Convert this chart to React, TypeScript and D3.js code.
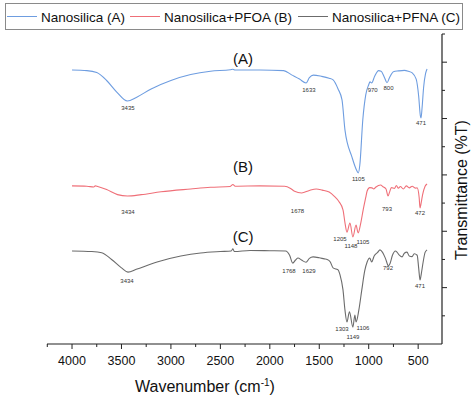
import React, { useEffect, useRef } from "react";
import * as d3 from "d3";

// spectra: [wavenumber (cm-1), transmittance (arb.)]
const nanosilicaA: [number, number][] = [
  [4000, 97.2], [3850, 97.0], [3750, 96.3], [3650, 93.5], [3550, 89.5], [3440, 86.2],
  [3350, 87.5], [3200, 90.5], [3000, 93.5], [2800, 95.6], [2600, 96.8], [2400, 97.3],
  [2373, 97.5], [2350, 97.2], [2100, 97.2], [1860, 97.0], [1780, 95.5], [1700, 94.0],
  [1634, 92.6], [1600, 94.5], [1560, 95.4], [1480, 95.0], [1400, 94.3], [1360, 93.7],
  [1310, 90.5], [1270, 86.6], [1240, 75.9], [1170, 66.4], [1120, 61.5], [1105, 60.7],
  [1090, 63.5], [1060, 79.5], [1030, 88.4], [1000, 92.0], [987, 93.0], [970, 92.6],
  [940, 95.0], [900, 97.0], [875, 96.8], [840, 94.5], [815, 92.7], [790, 94.5],
  [750, 96.6], [700, 96.9], [640, 97.1], [600, 96.8], [560, 96.2], [520, 94.0],
  [495, 88.0], [478, 81.0], [471, 80.2], [460, 84.0], [445, 91.0], [425, 96.0], [410, 97.6],
];

const nanosilicaPFOA: [number, number][] = [
  [4000, 56.1], [3850, 56.0], [3780, 55.7], [3765, 56.1], [3740, 55.9], [3650, 54.8],
  [3540, 53.0], [3440, 52.5], [3300, 53.0], [3100, 54.0], [2800, 55.0], [2600, 55.6],
  [2400, 55.9], [2373, 56.6], [2350, 56.0], [2100, 56.1], [1850, 56.0], [1790, 55.2],
  [1750, 54.2], [1678, 53.6], [1600, 54.5], [1530, 55.0], [1470, 54.6], [1400, 53.9],
  [1350, 52.5], [1300, 50.5], [1260, 47.6], [1240, 43.0], [1220, 39.7], [1190, 42.9],
  [1160, 38.0], [1128, 42.2], [1107, 39.4], [1080, 43.0], [1056, 47.6], [1030, 52.0],
  [1016, 54.3], [990, 55.5], [967, 55.4], [950, 55.0], [930, 55.6], [880, 56.4],
  [855, 55.8], [825, 55.0], [805, 52.5], [790, 53.8], [770, 55.5], [740, 55.2],
  [720, 56.2], [700, 55.3], [680, 55.9], [650, 55.0], [620, 56.1], [590, 55.4],
  [560, 56.0], [530, 55.3], [510, 55.4], [490, 52.0], [481, 48.3], [470, 50.0],
  [455, 53.0], [430, 56.0], [410, 56.8],
];

const nanosilicaPFNA: [number, number][] = [
  [4000, 33.0], [3800, 32.8], [3700, 32.4], [3600, 30.0], [3500, 27.0], [3434, 25.5],
  [3350, 26.5], [3140, 29.1], [2900, 31.2], [2700, 32.3], [2500, 32.8], [2390, 33.0],
  [2373, 33.8], [2360, 32.8], [2200, 33.2], [2000, 33.1], [1840, 33.0], [1800, 31.5],
  [1768, 28.7], [1740, 29.8], [1715, 30.5], [1680, 29.8], [1634, 29.0], [1600, 30.4],
  [1563, 30.9], [1500, 30.6], [1450, 30.2], [1420, 30.0], [1390, 29.2], [1360, 27.0],
  [1330, 26.6], [1310, 26.3], [1290, 24.5], [1260, 19.2], [1240, 12.0], [1220, 7.8],
  [1195, 11.4], [1160, 6.0], [1140, 10.3], [1128, 7.8], [1100, 12.0], [1070, 19.2],
  [1040, 26.0], [1016, 29.1], [990, 30.5], [970, 29.1], [945, 31.2], [910, 32.5],
  [886, 33.4], [860, 32.5], [830, 30.3], [800, 27.7], [785, 28.5], [760, 31.5],
  [730, 33.0], [714, 32.6], [690, 31.5], [663, 30.9], [640, 32.2], [613, 32.6],
  [590, 31.2], [562, 31.0], [540, 32.0], [510, 31.5], [495, 27.0], [481, 22.7],
  [468, 25.0], [450, 29.0], [430, 32.5], [410, 33.4],
];

const seriesNames = ["Nanosilica (A)", "Nanosilica+PFOA (B)", "Nanosilica+PFNA (C)"];
const seriesColors = ["#6e9de0", "#ef6f78", "#6b6b6b"];
const seriesData = [nanosilicaA, nanosilicaPFOA, nanosilicaPFNA];

// "(A)" "(B)" "(C)" curve tags: [label, wavenumber, transmittance]
const curveTags: [string, number, number][] = [
  ["(A)", 2270, 99.3],
  ["(B)", 2270, 61.2],
  ["(C)", 2270, 36.2],
];

// peak labels: [text, wavenumber, transmittance] for where the label sits
const peakLabels: [string, number, number][] = [
  ["3435", 3435, 83.0], ["1633", 1605, 89.4], ["970", 960, 89.4], ["800", 800, 90.1],
  ["471", 471, 77.7], ["1105", 1105, 57.8],
  ["3434", 3434, 46.1], ["1678", 1720, 46.5], ["1205", 1290, 36.6], ["1148", 1179, 34.1],
  ["1105", 1058, 35.5], ["793", 815, 47.2], ["472", 481, 45.8],
  ["3434", 3444, 21.6], ["1768", 1806, 25.2], ["1629", 1604, 25.2], ["792", 805, 26.3],
  ["471", 481, 19.9], ["1303", 1270, 4.6], ["1149", 1159, 1.8], ["1106", 1058, 5.0],
];

const xTicks = [4000, 3500, 3000, 2500, 2000, 1500, 1000, 500];

const FONT = "'Liberation Sans', Arial, Helvetica, sans-serif";

const App = () => {
  const ref = useRef<SVGSVGElement>(null);

  useEffect(() => {
    const width = 474;
    const height = 398;
    const plot = { left: 47, right: 442, top: 34, bottom: 344 };

    const svg = d3.select(ref.current);
    svg.selectAll("*").remove();
    svg.attr("width", width).attr("height", height);

    const x = d3.scaleLinear().domain([4253, 259]).range([plot.left, plot.right]);
    const y = d3.scaleLinear().domain([0, 110]).range([plot.bottom, plot.top]);

    // legend box
    const lg = svg.append("g").attr("font-family", FONT).attr("font-size", 13.5);
    lg.append("rect")
      .attr("x", 5.5).attr("y", 3.5).attr("width", 457).attr("height", 26)
      .attr("fill", "#fff").attr("stroke", "#8a8a8a").attr("stroke-width", 1);
    const legendX = [7, 130, 298];
    seriesNames.forEach((name, i) => {
      lg.append("line")
        .attr("x1", legendX[i]).attr("x2", legendX[i] + 30)
        .attr("y1", 16.5).attr("y2", 16.5)
        .attr("stroke", seriesColors[i]).attr("stroke-width", 1);
      lg.append("text")
        .attr("x", legendX[i] + 34).attr("y", 21.5)
        .attr("fill", "#111")
        .text(name);
    });

    // bottom axis
    const gx = svg.append("g").attr("transform", `translate(0,${plot.bottom})`);
    gx.append("line")
      .attr("x1", plot.left).attr("x2", plot.right)
      .attr("stroke", "#222").attr("stroke-width", 1.2);
    const minor = d3.range(4250, 250, -250).filter(v => v % 500 !== 0);
    gx.selectAll("line.minor").data(minor).enter().append("line")
      .attr("class", "minor")
      .attr("x1", d => x(d)).attr("x2", d => x(d))
      .attr("y1", 0).attr("y2", 3)
      .attr("stroke", "#222");
    gx.selectAll("line.major").data(xTicks).enter().append("line")
      .attr("class", "major")
      .attr("x1", d => x(d)).attr("x2", d => x(d))
      .attr("y1", 0).attr("y2", 5)
      .attr("stroke", "#222");
    gx.selectAll("text").data(xTicks).enter().append("text")
      .attr("x", d => x(d)).attr("y", 21)
      .attr("text-anchor", "middle")
      .attr("font-family", FONT).attr("font-size", 12.5)
      .attr("fill", "#111")
      .text(d => d);

    // right axis, no labels
    const gy = svg.append("g").attr("transform", `translate(${plot.right},0)`);
    gy.append("line")
      .attr("y1", plot.top).attr("y2", plot.bottom)
      .attr("stroke", "#222").attr("stroke-width", 1.2);
    gy.selectAll("line.tick").data(d3.range(10, 111, 10)).enter().append("line")
      .attr("class", "tick")
      .attr("y1", d => y(d)).attr("y2", d => y(d))
      .attr("x1", 0).attr("x2", d => (d % 20 === 0 ? 5 : 3))
      .attr("stroke", "#222");

    // spectra
    const line = d3.line<[number, number]>()
      .x(d => x(d[0]))
      .y(d => y(d[1]))
      .curve(d3.curveMonotoneX);
    seriesData.forEach((s, i) => {
      svg.append("path")
        .datum(s)
        .attr("d", line)
        .attr("fill", "none")
        .attr("stroke", seriesColors[i])
        .attr("stroke-width", 1.1);
    });

    svg.append("g").selectAll("text").data(curveTags).enter().append("text")
      .attr("x", d => x(d[1])).attr("y", d => y(d[2]))
      .attr("text-anchor", "middle")
      .attr("font-family", FONT).attr("font-size", 15)
      .attr("fill", "#111")
      .text(d => d[0]);

    svg.append("g").selectAll("text").data(peakLabels).enter().append("text")
      .attr("x", d => x(d[1])).attr("y", d => y(d[2]))
      .attr("text-anchor", "middle")
      .attr("font-family", FONT).attr("font-size", 6)
      .attr("fill", "#333")
      .text(d => d[0]);

    // axis titles
    const xt = svg.append("text")
      .attr("x", 135).attr("y", 392)
      .attr("font-family", FONT).attr("font-size", 16)
      .attr("fill", "#111");
    xt.append("tspan").text("Wavenumber (cm");
    xt.append("tspan").attr("dy", -6).attr("font-size", 10).text("-1");
    xt.append("tspan").attr("dy", 6).text(")");

    svg.append("text")
      .attr("transform", "translate(467,190) rotate(-90)")
      .attr("text-anchor", "middle")
      .attr("font-family", FONT).attr("font-size", 16)
      .attr("fill", "#111")
      .text("Transmittance (%T)");
  }, []);

  return (
    <svg
      ref={ref}
      width={474}
      height={398}
      style={{ position: "absolute", left: 0, top: 0, background: "#fff" }}
    />
  );
};

export default App;
